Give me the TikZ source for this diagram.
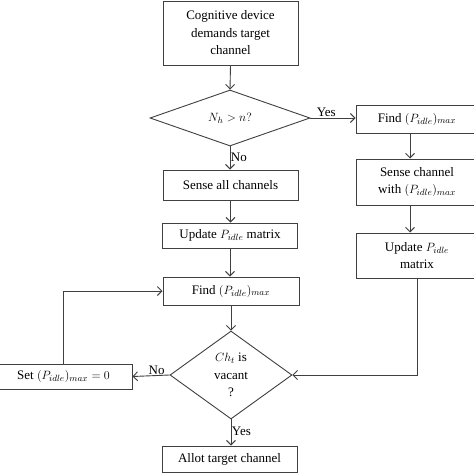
\documentclass[tikz,border=0pt]{standalone}
\usepackage{fontspec}
\setmainfont{Liberation Serif}
\usetikzlibrary{shapes.geometric,arrows.meta}
\begin{document}
\begin{tikzpicture}[x=1pt,y=-1pt,
  every node/.style={font=\fontsize{13}{17.5}\selectfont},
  box/.style={draw=black!75,line width=1pt,align=center,inner sep=0pt},
  dia/.style={draw=black!75,line width=0.9pt,diamond,align=center,inner sep=0pt},
  conn/.style={draw=black!75,line width=0.9pt,-{Straight Barb[length=4.5pt,width=9pt]}},
  lab/.style={inner sep=1pt,font=\fontsize{13}{14}\selectfont}]
\useasboundingbox (0,0) rectangle (474,474);
\fill[white] (0,0) rectangle (474,474);
% nodes
\node[box,minimum width=135pt,minimum height=64pt] (top) at (230.5,33) {Cognitive device\\demands target\\channel};
\node[dia,minimum width=160pt,minimum height=56pt] (d1) at (230,118) {$N_h > n?$};
\node[box,minimum width=135pt,minimum height=30pt] (sense) at (230.5,185) {Sense all channels};
\node[box,minimum width=135pt,minimum height=25pt] (upd) at (230,235.5) {Update $P_{idle}$ matrix};
\node[box,minimum width=136pt,minimum height=28pt] (findl) at (231,291) {Find $(P_{idle})_{max}$};
\node[dia,minimum width=122pt,minimum height=88pt] (d2) at (231,375) {$Ch_t$ is\\vacant\\?};
\node[box,minimum width=135pt,minimum height=26pt] (allot) at (229.5,459) {Allot target channel};
\node[box,minimum width=137pt,minimum height=25pt] (set) at (63.5,376.5) {Set $(P_{idle})_{max}=0$};
\node[box,minimum width=122pt,minimum height=28pt] (r1) at (417,119) {Find $(P_{idle})_{max}$};
\node[box,minimum width=122pt,minimum height=46pt] (r2) at (417,182) {Sense channel\\with $(P_{idle})_{max}$};
\node[box,minimum width=122pt,minimum height=45pt] (r3) at (417,255.5) {Update $P_{idle}$\\matrix};
% connectors
\draw[conn] (top.south) -- (d1.north);
\draw[conn] (d1.south) -- (d1.south |- sense.north) node[lab,pos=0.45,right,inner sep=0.5pt] {No};
\draw[conn] (sense.south) -- (sense.south |- upd.north);
\draw[conn] (upd.south) -- (upd.south |- findl.north);
\draw[conn] (findl.south) -- (findl.south |- d2.north);
\draw[conn] (d1.east) -- (d1.east -| r1.west) node[lab,pos=0.35,above,inner sep=0.5pt] {Yes};
\coordinate (a1) at ([xshift=-7pt]r1.south);
\draw[conn] (a1) -- (a1 |- r2.north);
\coordinate (a2) at ([xshift=-7pt]r2.south);
\draw[conn] (a2) -- (a2 |- r3.north);
\coordinate (c3) at (r3.south |- d2.east);
\draw[conn] (r3.south) -- (c3) -- (d2.east);
\draw[conn] (d2.west) -- (set.east) node[lab,pos=0.35,above,inner sep=0.5pt] {No};
\coordinate (c4) at (set.north |- findl.west);
\draw[conn] (set.north) -- (c4) -- (findl.west);
\draw[conn] (d2.south) -- (d2.south |- allot.north) node[lab,pos=0.45,right,inner sep=0.5pt] {Yes};
\end{tikzpicture}
\end{document}
